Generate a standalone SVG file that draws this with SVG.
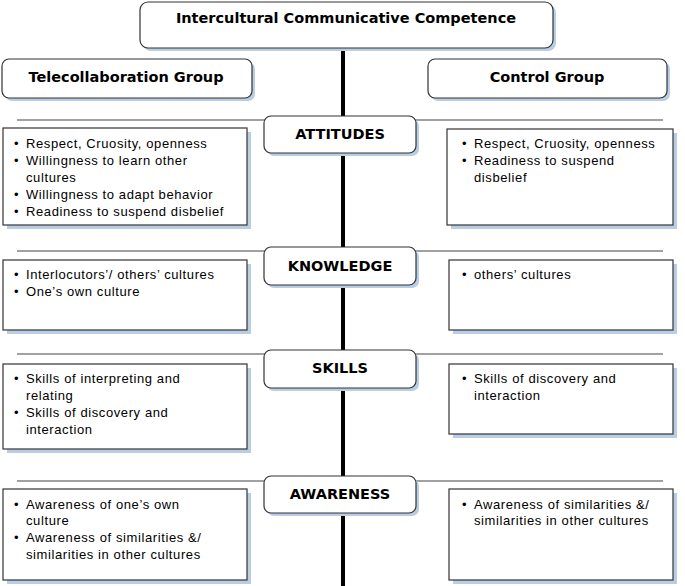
<svg xmlns="http://www.w3.org/2000/svg" width="685" height="586" viewBox="0 0 685 586">
<style>
.bg{fill:#ffffff}
.shadow{fill:#b9cde5}
.box{fill:#ffffff;stroke:#333333;stroke-width:1.2}
.hdr{font-family:"DejaVu Sans",sans-serif;font-weight:bold;font-size:14.5px;fill:#000;text-anchor:middle}
.txt{font-family:"Liberation Sans",Arial,sans-serif;font-size:13px;letter-spacing:0.6px;fill:#000}
.hline{stroke:#444444;stroke-width:1.2}
.vline{stroke:#000000;stroke-width:4}
</style>
<rect class="bg" x="0" y="0" width="685" height="586"/>
<g id="connectors">
<line class="vline" x1="343" y1="48" x2="343" y2="586"/>
<line class="hline" x1="17" y1="120" x2="663" y2="120"/>
<line class="hline" x1="17" y1="251" x2="663" y2="251"/>
<line class="hline" x1="17" y1="354" x2="663" y2="354"/>
<line class="hline" x1="17" y1="481" x2="663" y2="481"/>
</g>
<g id="title">
<rect class="shadow" x="143" y="5" width="413" height="46" rx="8"/>
<rect class="box" x="140" y="2" width="413" height="46" rx="8"/>
<text class="hdr" x="346" y="23">Intercultural Communicative Competence</text>
</g>
<g id="telecollaboration">
<rect class="shadow" x="5" y="62" width="250" height="39" rx="7"/>
<rect class="box" x="2" y="59" width="250" height="39" rx="7"/>
<text class="hdr" x="126" y="82">Telecollaboration Group</text>
</g>
<g id="control">
<rect class="shadow" x="431" y="62" width="239" height="39" rx="7"/>
<rect class="box" x="428" y="59" width="239" height="39" rx="7"/>
<text class="hdr" x="547" y="82">Control Group</text>
</g>
<g id="attitudes">
<rect class="shadow" x="267" y="119" width="152" height="37" rx="7"/>
<rect class="box" x="264" y="116" width="152" height="37" rx="7"/>
<text class="hdr" x="340" y="139">ATTITUDES</text>
</g>
<g id="knowledge">
<rect class="shadow" x="267" y="250" width="152" height="38" rx="7"/>
<rect class="box" x="264" y="247" width="152" height="38" rx="7"/>
<text class="hdr" x="340" y="271">KNOWLEDGE</text>
</g>
<g id="skills">
<rect class="shadow" x="267" y="353" width="152" height="38" rx="7"/>
<rect class="box" x="264" y="350" width="152" height="38" rx="7"/>
<text class="hdr" x="340" y="373">SKILLS</text>
</g>
<g id="awareness">
<rect class="shadow" x="267" y="479" width="152" height="37" rx="7"/>
<rect class="box" x="264" y="476" width="152" height="37" rx="7"/>
<text class="hdr" x="340" y="499">AWARENESS</text>
</g>
<g id="tc-attitudes">
<rect class="shadow" x="7" y="132" width="244" height="97"/>
<rect class="box" x="3" y="128" width="244" height="97"/>
<text class="txt"><tspan x="14" y="148">•</tspan><tspan x="26" y="148">Respect, Cruosity, openness</tspan><tspan x="14" y="165">•</tspan><tspan x="26" y="165">Willingness to learn other</tspan><tspan x="26" y="182">cultures</tspan><tspan x="14" y="199">•</tspan><tspan x="26" y="199">Willingness to adapt behavior</tspan><tspan x="14" y="216">•</tspan><tspan x="26" y="216">Readiness to suspend disbelief</tspan></text>
</g>
<g id="cg-attitudes">
<rect class="shadow" x="451" y="133" width="226" height="96"/>
<rect class="box" x="447" y="129" width="226" height="96"/>
<text class="txt"><tspan x="462" y="148">•</tspan><tspan x="474" y="148">Respect, Cruosity, openness</tspan><tspan x="462" y="165">•</tspan><tspan x="474" y="165">Readiness to suspend</tspan><tspan x="474" y="182">disbelief</tspan></text>
</g>
<g id="tc-knowledge">
<rect class="shadow" x="7" y="264" width="244" height="70"/>
<rect class="box" x="3" y="260" width="244" height="70"/>
<text class="txt"><tspan x="14" y="279">•</tspan><tspan x="26" y="279">Interlocutors’/ others’ cultures</tspan><tspan x="14" y="296">•</tspan><tspan x="26" y="296">One’s own culture</tspan></text>
</g>
<g id="cg-knowledge">
<rect class="shadow" x="453" y="264" width="224" height="70"/>
<rect class="box" x="449" y="260" width="224" height="70"/>
<text class="txt"><tspan x="462" y="279">•</tspan><tspan x="474" y="279">others’ cultures</tspan></text>
</g>
<g id="tc-skills">
<rect class="shadow" x="7" y="368" width="244" height="85"/>
<rect class="box" x="3" y="364" width="244" height="85"/>
<text class="txt"><tspan x="14" y="383">•</tspan><tspan x="26" y="383">Skills of interpreting and</tspan><tspan x="26" y="400">relating</tspan><tspan x="14" y="417">•</tspan><tspan x="26" y="417">Skills of discovery and</tspan><tspan x="26" y="434">interaction</tspan></text>
</g>
<g id="cg-skills">
<rect class="shadow" x="453" y="368" width="224" height="70"/>
<rect class="box" x="449" y="364" width="224" height="70"/>
<text class="txt"><tspan x="462" y="383">•</tspan><tspan x="474" y="383">Skills of discovery and</tspan><tspan x="474" y="400">interaction</tspan></text>
</g>
<g id="tc-awareness">
<rect class="shadow" x="7" y="493" width="244" height="91"/>
<rect class="box" x="3" y="489" width="244" height="91"/>
<text class="txt"><tspan x="14" y="509">•</tspan><tspan x="26" y="509">Awareness of one’s own</tspan><tspan x="26" y="525">culture</tspan><tspan x="14" y="542">•</tspan><tspan x="26" y="542">Awareness of similarities &amp;/</tspan><tspan x="26" y="559">similarities in other cultures</tspan></text>
</g>
<g id="cg-awareness">
<rect class="shadow" x="453" y="493" width="224" height="91"/>
<rect class="box" x="449" y="489" width="224" height="91"/>
<text class="txt"><tspan x="462" y="509">•</tspan><tspan x="474" y="509">Awareness of similarities &amp;/</tspan><tspan x="474" y="525">similarities in other cultures</tspan></text>
</g>
</svg>
